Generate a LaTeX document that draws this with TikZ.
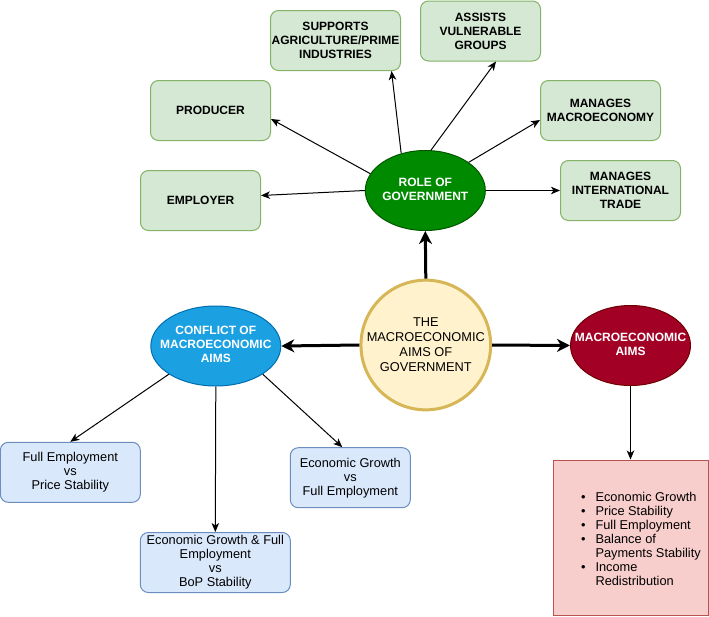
\documentclass[tikz,border=0pt]{standalone}
\usepackage{fontspec}
\setmainfont{Liberation Sans}
\usetikzlibrary{arrows.meta,shapes.geometric,calc}
\definecolor{gfill}{HTML}{D5E8D4}
\definecolor{gline}{HTML}{82B366}
\definecolor{bfill}{HTML}{DAE8FC}
\definecolor{bline}{HTML}{6C8EBF}
\definecolor{rfill}{HTML}{F8CECC}
\definecolor{rline}{HTML}{B85450}
\definecolor{yfill}{HTML}{FFF2CC}
\definecolor{yline}{HTML}{D6B656}
\definecolor{rolefill}{HTML}{008A00}
\definecolor{roleline}{HTML}{005700}
\definecolor{conffill}{HTML}{1BA1E2}
\definecolor{confline}{HTML}{006EAF}
\definecolor{aimsfill}{HTML}{A20025}
\definecolor{aimsline}{HTML}{6F0000}
\newcommand{\ztext}[1]{\makebox[0pt][c]{\begin{tabular}{@{}c@{}}#1\end{tabular}}}
\begin{document}
\begin{tikzpicture}[x=1pt,y=-1pt,
  regfont/.style={font=\fontsize{12.8}{14}\selectfont},
  boldfont/.style={font=\fontsize{12}{14}\selectfont\bfseries},
  base/.style={inner sep=0pt, align=center, line width=1pt},
  gbox/.style={base, boldfont, rectangle, rounded corners=8pt, fill=gfill, draw=gline, minimum width=120pt, minimum height=60pt, text=black},
  bbox/.style={base, regfont, rectangle, rounded corners=8pt, fill=bfill, draw=bline, minimum width=120pt, minimum height=60pt, text=black},
  ell/.style={inner sep=0pt, line width=1pt, boldfont, ellipse, text=white, minimum width=120pt, minimum height=80pt},
  thin/.style={line width=1pt, -{Stealth[length=9pt,width=7.5pt,inset=2.5pt]}},
  thick/.style={line width=3pt, -{Stealth[length=13pt,width=13pt,inset=4pt]}}
]
\useasboundingbox (0,0) rectangle (709,616);

% green boxes
\node[gbox, minimum width=130pt] (sup) at (335.5,40.5) {SUPPORTS\\AGRICULTURE/PRIME\\INDUSTRIES};
\node[gbox] (asst) at (480.5,31) {ASSISTS\\VULNERABLE\\GROUPS};
\node[gbox] (prod) at (210.5,110.5) {PRODUCER};
\node[gbox] (emp) at (200.5,200.5) {EMPLOYER};
\node[gbox] (mac) at (600.5,110.5) {MANAGES\\MACROECONOMY};
\node[gbox] (trade) at (620.5,190.5) {MANAGES\\INTERNATIONAL\\TRADE};

% ellipses and center
\node[ell, fill=rolefill, draw=roleline] (role) at (425.3,190.5) {\ztext{ROLE OF\\GOVERNMENT}};
\node[base, circle, fill=yfill, draw=yline, line width=3pt, minimum size=128pt, font=\fontsize{12.8}{15}\selectfont] (main) at (425.8,345) {THE\\MACROECONOMIC\\AIMS OF\\GOVERNMENT};
\node[ell, fill=conffill, draw=confline, minimum width=130pt] (conf) at (215.8,346) {\ztext{CONFLICT OF\\MACROECONOMIC\\AIMS}};
\node[ell, fill=aimsfill, draw=aimsline] (aims) at (630.5,345.5) {\ztext{MACROECONOMIC\\AIMS}};

% blue boxes
\node[bbox, minimum width=140pt] (b1) at (70.3,472.3) {Full Employment\\vs\\Price Stability};
\node[bbox] (b2) at (350.3,477.7) {Economic Growth\\vs\\Full Employment};
\node[bbox, minimum width=150pt] (b3) at (215.3,562.5) {Economic Growth \& Full\\Employment\\vs\\BoP Stability};

% red box and list
\node[base, rectangle, fill=rfill, draw=rline, minimum width=155pt, minimum height=155pt] (red) at (630.5,537.5) {};
\node[inner sep=0pt, anchor=west, align=left, regfont] (list) at (581,538.7)
  {\makebox[14.3pt][l]{\textbullet}Economic Growth\\
   \makebox[14.3pt][l]{\textbullet}Price Stability\\
   \makebox[14.3pt][l]{\textbullet}Full Employment\\
   \makebox[14.3pt][l]{\textbullet}Balance of\\
   \hspace*{14.3pt}Payments Stability\\
   \makebox[14.3pt][l]{\textbullet}Income\\
   \hspace*{14.3pt}Redistribution};

% connectors
\draw[thick] (main.north) -- (role.south);
\draw[thick] (main.west) -- (conf.east);
\draw[thick] (main.east) -- (aims.west);

\draw[thin] (role.123) -- ([xshift=56pt]sup.south);
\draw[thin] (role.82) -- ([xshift=15.5pt]asst.south);
\draw[thin] (role.163) -- ([yshift=-8.5pt]prod.east);
\draw[thin] (role.33.6) -- ([yshift=-9.5pt]mac.west);
\draw[thin] (role.west) -- ([yshift=5pt]emp.east);
\draw[thin] (role.east) -- (trade.west);

\draw[thin] (conf.211) -- (b1.north);
\draw[thin] (conf.south) -- (b3.north);
\draw[thin] (conf.-31.8) -- ([xshift=-8pt]b2.north);
\draw[thin] (aims.south) -- (red.north);
\end{tikzpicture}
\end{document}
